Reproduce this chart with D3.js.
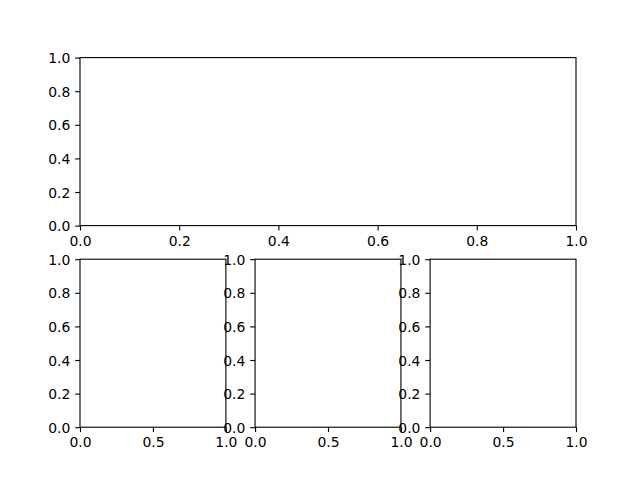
<!DOCTYPE html>
<html>
<head>
<meta charset="utf-8">
<script src="https://cdn.jsdelivr.net/npm/d3@7"></script>
<style>
body { margin: 0; background: #fff; }
text { font-family: "DejaVu Sans", sans-serif; font-size: 13.9px; fill: #000; }
</style>
</head>
<body>
<svg id="fig" width="640" height="480"></svg>
<script>
// tick values for each panel
var topXTicks = [0, 0.2, 0.4, 0.6, 0.8, 1.0];
var topYTicks = [0, 0.2, 0.4, 0.6, 0.8, 1.0];
var smallXTicks = [0, 0.5, 1.0];
var smallYTicks = [0, 0.2, 0.4, 0.6, 0.8, 1.0];
var domain = [0, 1];

var figW = 640, figH = 480;
var padL = 0.125 * figW, padR = 0.9 * figW, padT = 0.12 * figH, padB = 0.89 * figH;
var hspace = 0.2, wspace = 0.2;
var cellH = (padB - padT) / (2 + hspace);
var gapH = cellH * hspace;
var cellW = (padR - padL) / (3 + 2 * wspace);
var gapW = cellW * wspace;

var tickLen = 4.86, tickPad = 4.86, lw = 1.11;
var fmt = d3.format(".1f");

var svg = d3.select("#fig");

var panels = [
  { x: padL, y: padT, w: padR - padL, h: cellH, xt: topXTicks, yt: topYTicks }
];
for (var i = 0; i < 3; i++) {
  panels.push({ x: padL + i * (cellW + gapW), y: padT + cellH + gapH, w: cellW, h: cellH,
                xt: smallXTicks, yt: smallYTicks });
}

panels.forEach(function (p) {
  var g = svg.append("g").attr("transform", "translate(" + p.x + "," + p.y + ")");
  var xs = d3.scaleLinear().domain(domain).range([0, p.w]);
  var ys = d3.scaleLinear().domain(domain).range([p.h, 0]);

  var xAxis = d3.axisBottom(xs).tickValues(p.xt).tickFormat(fmt)
    .tickSizeInner(tickLen).tickSizeOuter(0).tickPadding(tickPad);
  var yAxis = d3.axisLeft(ys).tickValues(p.yt).tickFormat(fmt)
    .tickSizeInner(tickLen).tickSizeOuter(0).tickPadding(tickPad);

  var gx = g.append("g").attr("transform", "translate(0," + p.h + ")").call(xAxis);
  var gy = g.append("g").call(yAxis);
  [gx, gy].forEach(function (a) {
    a.select(".domain").remove();
    a.attr("font-family", null).attr("font-size", null);
    a.selectAll("line").attr("stroke", "#000").attr("stroke-width", lw);
    a.selectAll("text").attr("fill", "#000");
  });
  gx.selectAll("text").attr("dy", "0.76em");
  gy.selectAll("text").attr("dy", "0.36em");

  g.append("rect").attr("width", p.w).attr("height", p.h)
    .attr("fill", "none").attr("stroke", "#000").attr("stroke-width", lw);
});
</script>
</body>
</html>
